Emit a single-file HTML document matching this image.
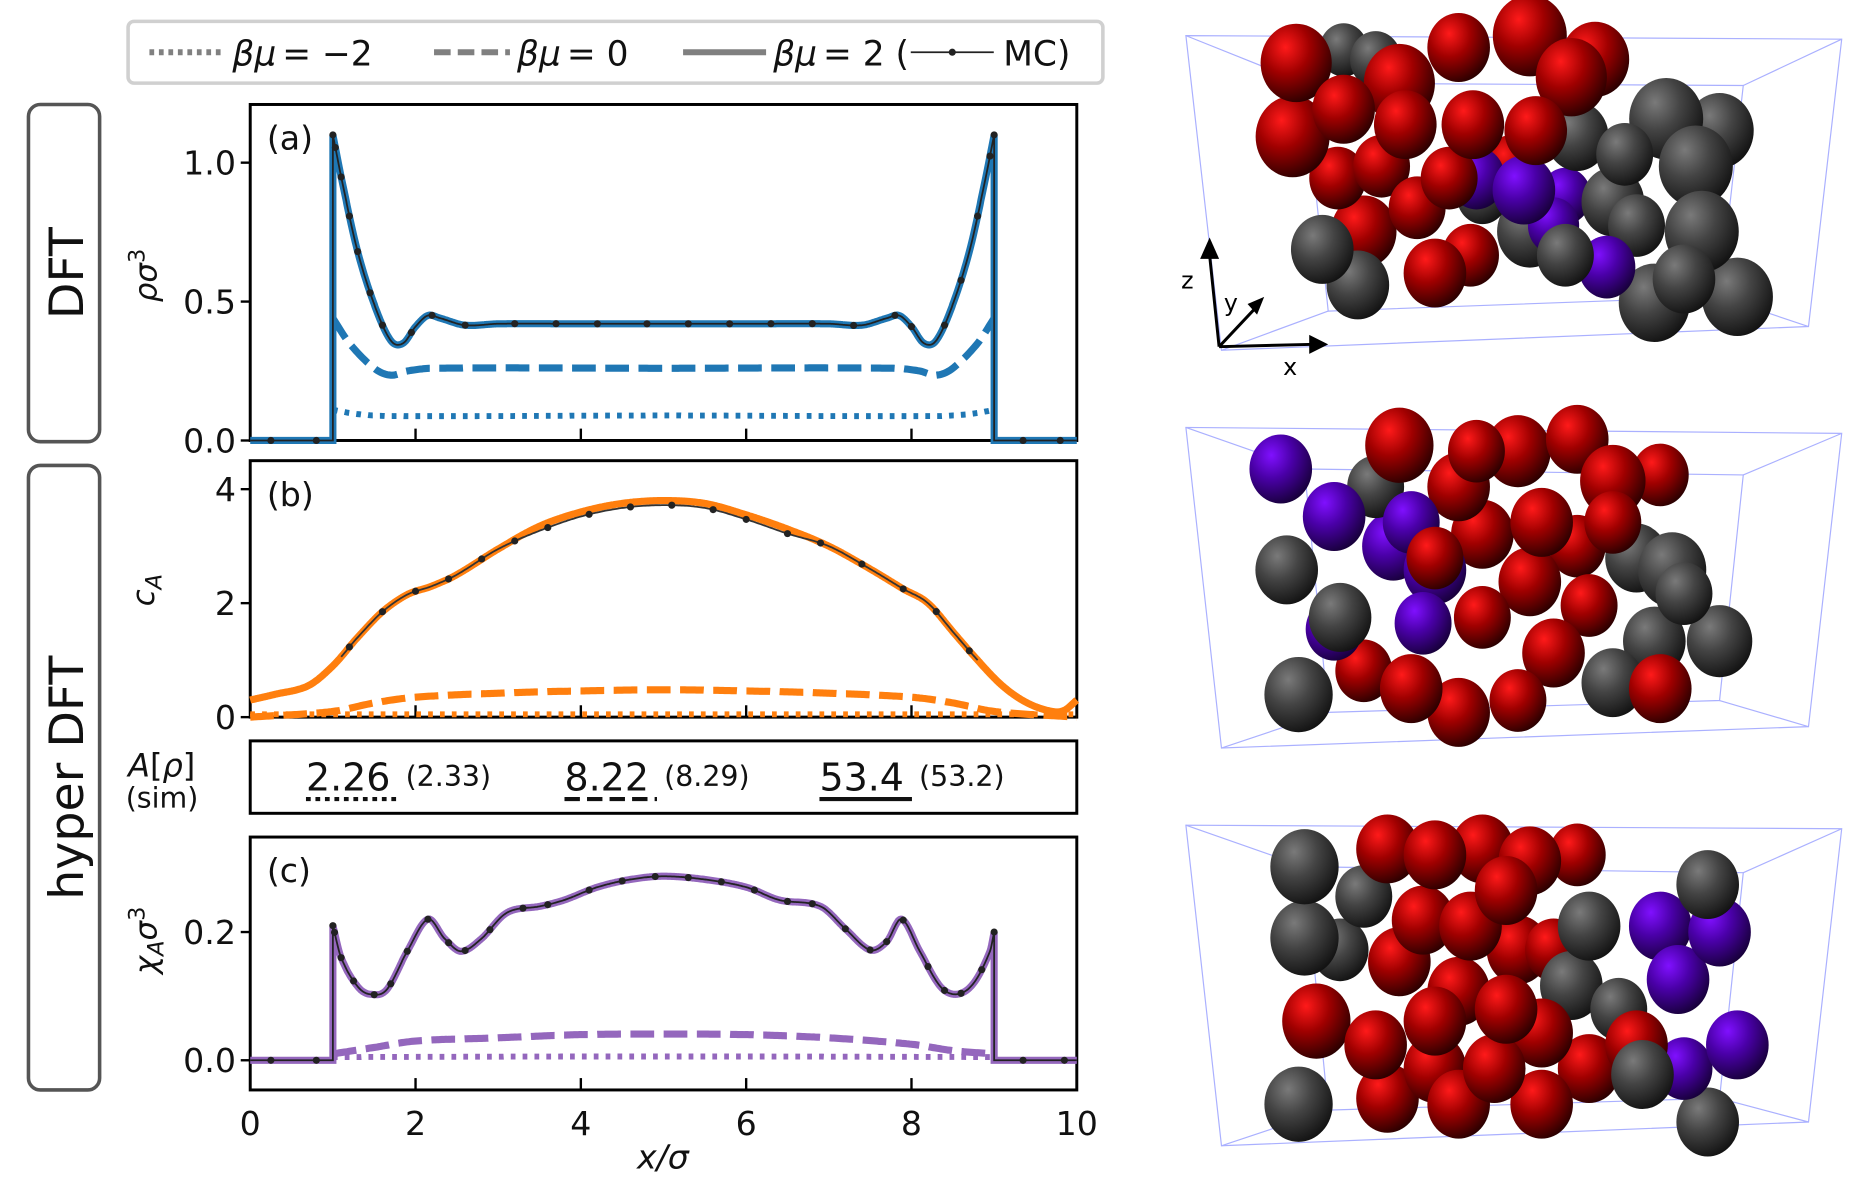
<!DOCTYPE html>
<html><head><meta charset="utf-8">
<style>
html,body{margin:0;padding:0;background:#fff;}
svg{display:block;}
text{font-family:"DejaVu Sans","Liberation Sans",sans-serif;}
</style></head>
<body>
<svg id="s" width="1850" height="1179" viewBox="0 0 1560 993" preserveAspectRatio="none" xmlns="http://www.w3.org/2000/svg">
<defs>
<radialGradient id="gr" cx="0.35" cy="0.3" r="0.75"><stop offset="0" stop-color="#ff1a1a"/><stop offset="0.45" stop-color="#a00000"/><stop offset="1" stop-color="#280000"/></radialGradient>
<radialGradient id="gg" cx="0.35" cy="0.3" r="0.75"><stop offset="0" stop-color="#7a7a7a"/><stop offset="0.45" stop-color="#444"/><stop offset="1" stop-color="#111"/></radialGradient>
<radialGradient id="gp" cx="0.35" cy="0.3" r="0.75"><stop offset="0" stop-color="#8010ff"/><stop offset="0.45" stop-color="#4a00a8"/><stop offset="1" stop-color="#160038"/></radialGradient>
</defs>
<!-- legend -->
<rect x="108" y="18" width="822" height="52" rx="5" fill="#fff" stroke="#d0d0d0" stroke-width="3"/>
<line x1="126" y1="44" x2="190" y2="44" stroke="#808080" stroke-width="5" stroke-dasharray="4,4"/>
<text x="196" y="55" font-size="29" font-style="italic" fill="#111">βμ</text><text x="238" y="55" font-size="29" fill="#111">= −2</text>
<line x1="366" y1="44" x2="430" y2="44" stroke="#808080" stroke-width="5" stroke-dasharray="14,6"/>
<text x="436" y="55" font-size="29" font-style="italic" fill="#111">βμ</text><text x="478" y="55" font-size="29" fill="#111">= 0</text>
<line x1="576" y1="44" x2="646" y2="44" stroke="#808080" stroke-width="5"/>
<text x="652" y="55" font-size="29" font-style="italic" fill="#111">βμ</text><text x="694" y="55" font-size="29" fill="#111">= 2 (</text>
<line x1="768" y1="44" x2="838" y2="44" stroke="#222" stroke-width="1.5"/><circle cx="803" cy="44" r="3" fill="#222"/>
<text x="846" y="55" font-size="29" fill="#111">MC)</text>
<!-- side labels -->
<rect x="24" y="88" width="60" height="284" rx="10" fill="none" stroke="#555" stroke-width="3"/>
<text transform="translate(70,230) rotate(-90)" font-size="40" text-anchor="middle" fill="#111">DFT</text>
<rect x="24" y="392" width="60" height="526" rx="10" fill="none" stroke="#555" stroke-width="3"/>
<text transform="translate(70,655) rotate(-90)" font-size="40" text-anchor="middle" fill="#111">hyper DFT</text>
<g id="plots"></g>
<g id="spheres"></g>
</svg>
<script>
var NS="http://www.w3.org/2000/svg";
function el(p,t,a,txt){var e=document.createElementNS(NS,t);for(var k in a)e.setAttribute(k,a[k]);if(txt!==undefined)e.textContent=txt;p.appendChild(e);return e;}
var P=document.getElementById('plots');
var X0=211,X1=908;function xs(x){return X0+(X1-X0)*x/10;}
function interp(pts,x){
 for(var i=0;i<pts.length-1;i++){if(x<=pts[i+1][0]){var p0=pts[Math.max(i-1,0)],p1=pts[i],p2=pts[i+1],p3=pts[Math.min(i+2,pts.length-1)];
 var t=(x-p1[0])/(p2[0]-p1[0]||1);var m1=(p2[1]-p0[1])/((p2[0]-p0[0])||1)*(p2[0]-p1[0]),m2=(p3[1]-p1[1])/((p3[0]-p1[0])||1)*(p2[0]-p1[0]);
 var t2=t*t,t3=t2*t;return (2*t3-3*t2+1)*p1[1]+(t3-2*t2+t)*m1+(-2*t3+3*t2)*p2[1]+(t3-t2)*m2;}}
 return pts[pts.length-1][1];}
function path(pts,ys,a,b,step){var d="";for(var x=a;x<=b+1e-9;x+=step){d+=(d?"L":"M")+xs(x).toFixed(1)+","+ys(interp(pts,x)).toFixed(1);}return d;}
function sym(half){var r=half.slice();for(var i=half.length-2;i>=0;i--)r.push([10-half[i][0],half[i][1]]);return r;}
function panel(y0,y1,ys,ticks,lab){
 el(P,'rect',{x:X0,y:y0,width:X1-X0,height:y1-y0,fill:'none',stroke:'#000','stroke-width':2.5});
 for(var i=2;i<=8;i+=2)el(P,'line',{x1:xs(i),x2:xs(i),y1:y1,y2:y1-10,stroke:'#000','stroke-width':2});
 ticks.forEach(function(t){var y=ys(t[0]);el(P,'line',{x1:X0,x2:X0-8,y1:y,y2:y,stroke:'#000','stroke-width':2});el(P,'text',{x:X0-12,y:y+10,'font-size':28,'text-anchor':'end',fill:'#111'},t[1]);});
 el(P,'text',{x:225,y:y0+38,'font-size':28,fill:'#111'},lab);
}
function curves(ys,solid,dash,dot,col,mc,stepDomain){
 var g=el(P,'g',{});
 el(g,'path',{d:path(dot,ys,1,9,0.02),fill:'none',stroke:col,'stroke-width':5,'stroke-dasharray':'4,6'});
 el(g,'path',{d:path(dash,ys,stepDomain?1:0,stepDomain?9:10,0.02),fill:'none',stroke:col,'stroke-width':6,'stroke-dasharray':'20,8'});
 var d;
 if(stepDomain){d="M"+X0+","+ys(0)+"L"+xs(1)+","+ys(0)+path(solid,ys,1,9,0.01).replace(/^M/,"L")+"L"+xs(9)+","+ys(0)+"L"+X1+","+ys(0);}
 else d=path(solid,ys,0,10,0.01);
 el(g,'path',{d:d,fill:'none',stroke:col,'stroke-width':6});
 el(g,'path',{d:d,fill:'none',stroke:'#222','stroke-width':1.5});
 mc.forEach(function(x){var y=stepDomain&&(x<1||x>9)?0:interp(solid,x);el(g,'circle',{cx:xs(x),cy:ys(y),r:3,fill:'#222'});});
}
var ya=function(v){return 371-234*v;};
panel(88,371,ya,[[0,'0.0'],[0.5,'0.5'],[1,'1.0']],'(a)');
var aS=sym([[1,1.1],[1.12,0.92],[1.3,0.68],[1.5,0.49],[1.7,0.36],[1.85,0.35],[2.0,0.41],[2.15,0.45],[2.3,0.44],[2.6,0.415],[3,0.42],[4,0.42],[5,0.42]]);
var aD=sym([[1,0.44],[1.2,0.35],[1.5,0.26],[1.7,0.235],[1.9,0.25],[2.2,0.26],[5,0.26]]);
var aT=sym([[1,0.11],[1.3,0.095],[1.7,0.088],[5,0.09]]);
var mcA=[0.25,0.8,1.0,1.03,1.1,1.2,1.3,1.45,1.6,1.95,2.2,2.6,3.2,3.7,4.2,4.8,5.3,5.8,6.3,6.8,7.3,7.8,8.0,8.4,8.6,8.8,8.95,9.0,9.35,9.8];
curves(ya,aS,aD,aT,'#1f77b4',mcA,true);
var yb=function(v){return 604-48*v;};
panel(388,604,yb,[[0,'0'],[2,'2'],[4,'4']],'(b)');
var bS=[[0,0.3],[0.3,0.4],[0.7,0.55],[1.0,0.9],[1.3,1.4],[1.6,1.85],[1.9,2.15],[2.2,2.3],[2.5,2.5],[3,2.95],[3.5,3.35],[4,3.6],[4.5,3.75],[5,3.8],[5.5,3.75],[6,3.55],[6.5,3.3],[7,3.0],[7.5,2.6],[7.9,2.25],[8.2,2.0],[8.5,1.5],[8.8,1.0],[9.1,0.55],[9.4,0.25],[9.7,0.1],[9.85,0.12],[10,0.3]];
var bD=[[0,0],[1,0.1],[1.5,0.25],[2,0.35],[3,0.42],[4,0.46],[5,0.48],[6,0.46],[7,0.42],[8,0.35],[8.5,0.25],[9,0.1],[10,0]];
var bT=[[1,0.05],[5,0.05],[9,0.05]];
var mcB=[1.2,1.6,2.0,2.4,2.8,3.2,3.6,4.1,4.6,5.1,5.6,6.0,6.5,6.9,7.4,7.9,8.3,8.7];
(function(){var g=el(P,'g',{});
 el(g,'path',{d:path(bT,yb,0,10,0.02),fill:'none',stroke:'#ff7f0e','stroke-width':5,'stroke-dasharray':'4,6'});
 el(g,'path',{d:path(bD,yb,0,10,0.02),fill:'none',stroke:'#ff7f0e','stroke-width':6,'stroke-dasharray':'20,8'});
 el(g,'path',{d:path(bS,yb,0,10,0.01),fill:'none',stroke:'#ff7f0e','stroke-width':6});
 var mcS=bS.map(function(p){return [p[0],p[1]-(p[1]>3?0.08:0)];});
 el(g,'path',{d:path(mcS,yb,1.1,8.8,0.02),fill:'none',stroke:'#333','stroke-width':1.5});
 mcB.forEach(function(x){el(g,'circle',{cx:xs(x),cy:yb(interp(mcS,x)),r:3,fill:'#222'});});})();
el(P,'rect',{x:X0,y:624,width:X1-X0,height:61,fill:'none',stroke:'#000','stroke-width':2.5});
el(P,'text',{x:108,y:654,'font-size':27,fill:'#111'},'').innerHTML='<tspan font-style="italic">A</tspan>[<tspan font-style="italic">ρ</tspan>]';
el(P,'text',{x:106,y:680,'font-size':24,fill:'#111'},'(sim)');
[[258,'2.26','(2.33)','4,4'],[476,'8.22','(8.29)','13,6'],[691,'53.4','(53.2)','']].forEach(function(v){
 el(P,'text',{x:v[0],y:666,'font-size':32,fill:'#111'},v[1]);
 el(P,'text',{x:v[0]+84,y:662,'font-size':24,fill:'#111'},v[2]);
 var a={x1:v[0],x2:v[0]+78,y1:673,y2:673,stroke:'#111','stroke-width':3.5};if(v[3])a['stroke-dasharray']=v[3];el(P,'line',a);});
var yc=function(v){return 893-540*v;};
panel(705,918,yc,[[0,'0.0'],[0.2,'0.2']],'(c)');
var cS=[[1,0.21],[1.1,0.16],[1.3,0.115],[1.45,0.103],[1.65,0.11],[1.9,0.17],[2.15,0.22],[2.35,0.19],[2.55,0.17],[2.8,0.19],[3.05,0.225],[3.2,0.235],[3.5,0.24],[3.8,0.25],[4.2,0.27],[4.6,0.282],[5,0.287],[5.5,0.282],[6,0.27],[6.4,0.25],[6.9,0.24],[7.2,0.205],[7.5,0.172],[7.7,0.185],[7.88,0.22],[8.1,0.17],[8.35,0.115],[8.55,0.103],[8.75,0.12],[8.95,0.17],[9,0.2]];
var cD=[[1,0.01],[1.5,0.02],[2,0.03],[3,0.035],[4,0.04],[5,0.041],[6,0.04],[7,0.035],[8,0.025],[8.5,0.015],[9,0.01]];
var cT=[[1,0.005],[5,0.006],[9,0.005]];
var mcC=[0.25,0.8,1.0,1.02,1.1,1.25,1.5,1.7,1.9,2.15,2.4,2.6,2.9,3.3,3.6,4.1,4.5,4.9,5.3,5.7,6.1,6.5,6.8,7.2,7.5,7.7,7.9,8.2,8.4,8.6,8.85,9.0,9.35,9.85];
curves(yc,cS,cD,cT,'#9467bd',mcC,true);
for(var i=0;i<=10;i+=2)el(P,'text',{x:xs(i),y:956,'font-size':28,'text-anchor':'middle',fill:'#111'},String(i));
el(P,'text',{x:559,y:984,'font-size':28,'text-anchor':'middle',fill:'#111','font-style':'italic'},'x/σ');
el(P,'text',{transform:'translate(132,232) rotate(-90)','font-size':26,'text-anchor':'middle',fill:'#111'},'').innerHTML='<tspan font-style="italic">ρσ</tspan><tspan dy="-10" font-size="19">3</tspan>';
el(P,'text',{transform:'translate(130,497) rotate(-90)','font-size':26,'text-anchor':'middle',fill:'#111','font-style':'italic'},'').innerHTML='c<tspan dy="6" font-size="19">A</tspan>';
el(P,'text',{transform:'translate(132,792) rotate(-90)','font-size':26,'text-anchor':'middle',fill:'#111'},'').innerHTML='<tspan font-style="italic">χ</tspan><tspan font-style="italic" dy="6" font-size="19">A</tspan><tspan font-style="italic" dy="-6">σ</tspan><tspan dy="-10" font-size="19">3</tspan>';
var S=document.getElementById('spheres');
function box(o,i){el(S,'polygon',{points:o,fill:'none',stroke:'#aab0ff','stroke-width':1});el(S,'polygon',{points:i,fill:'none',stroke:'#aab0ff','stroke-width':1});
 var a=o.split(' '),b=i.split(' ');for(var k=0;k<4;k++)el(S,'line',{x1:a[k].split(',')[0],y1:a[k].split(',')[1],x2:b[k].split(',')[0],y2:b[k].split(',')[1],stroke:'#aab0ff','stroke-width':1});}
box('1000,30 1553,33 1525,275 1030,295','1100,70 1470,72 1450,250 1120,262');
box('1000,360 1553,365 1525,612 1030,630','1100,395 1470,400 1450,590 1120,600');
box('1000,695 1553,698 1525,945 1030,965','1100,730 1470,735 1450,925 1120,935');
var sp={
r:[[1093,53,25],[1133,92,22],[1180,70,25],[1230,40,22],[1290,30,26],[1325,65,25],[1295,110,22],[1242,105,22],[1222,150,20],[1165,140,20],[1090,115,26],[1128,150,20],[1150,195,23],[1210,230,22],[1195,175,20],[1240,215,20],[1185,105,22],[1275,140,20],[1345,50,24],
 [1180,375,24],[1230,410,22],[1280,380,23],[1330,370,22],[1360,405,23],[1400,400,20],[1250,450,22],[1300,440,22],[1330,460,20],[1290,490,22],[1250,520,20],[1310,550,22],[1280,590,20],[1230,600,22],[1190,580,22],[1150,565,20],[1340,510,20],[1210,470,20],[1245,380,20],[1400,580,22],[1360,440,20],
 [1170,715,22],[1210,720,22],[1250,715,22],[1290,725,22],[1330,720,20],[1200,775,22],[1240,780,22],[1280,800,22],[1310,800,20],[1180,810,22],[1230,835,22],[1270,850,22],[1300,870,22],[1110,860,24],[1160,880,22],[1210,900,22],[1260,900,22],[1300,930,22],[1170,925,22],[1230,930,22],[1340,900,22],[1380,880,22],[1210,860,22],[1270,750,22]],
g:[[1133,42,17],[1160,50,18],[1250,165,18],[1290,195,23],[1330,115,22],[1370,130,20],[1405,100,26],[1430,140,26],[1435,195,26],[1380,190,20],[1360,170,22],[1115,210,22],[1145,240,22],[1320,215,20],[1420,235,22],[1465,250,25],[1395,255,25],[1450,110,24],
 [1085,480,22],[1130,520,22],[1095,585,24],[1160,410,20],[1380,470,22],[1410,480,24],[1395,540,22],[1450,540,23],[1360,575,22],[1420,500,20],
 [1100,730,24],[1100,790,24],[1130,800,20],[1095,930,24],[1150,755,20],[1340,780,22],[1325,830,22],[1385,905,22],[1440,945,22],[1440,745,22],[1365,850,20]],
p:[[1245,150,20],[1285,160,22],[1320,165,18],[1355,225,20],[1310,190,18],
 [1080,395,22],[1125,435,22],[1175,460,22],[1210,480,22],[1190,440,20],[1125,530,20],[1200,525,20],
 [1400,780,22],[1450,785,22],[1415,825,22],[1465,880,22],[1420,900,20]]};
var all=[];for(var c in sp)sp[c].forEach(function(s){all.push([s[0],s[1],s[2]*1.2,c]);});
all.sort(function(a,b){return (a[0]*7+a[1]*3)%97-(b[0]*7+b[1]*3)%97;});
all.forEach(function(s){el(S,'ellipse',{cx:s[0],cy:s[1],rx:s[2],ry:s[2]*1.1,fill:'url(#g'+s[3]+')'});});
el(S,'path',{d:'M1028,292 L1020,215 M1028,292 L1108,290 M1028,292 L1060,258',stroke:'#000','stroke-width':2.5,fill:'none'});
el(S,'polygon',{points:'1012,218 1020,200 1028,218',fill:'#000'});
el(S,'polygon',{points:'1104,282 1120,290 1104,298',fill:'#000'});
el(S,'polygon',{points:'1052,256 1066,250 1060,265',fill:'#000'});
el(S,'text',{x:996,y:243,'font-size':20,fill:'#000'},'z');
el(S,'text',{x:1032,y:262,'font-size':20,fill:'#000'},'y');
el(S,'text',{x:1082,y:316,'font-size':20,fill:'#000'},'x');
</script>
</body></html>
